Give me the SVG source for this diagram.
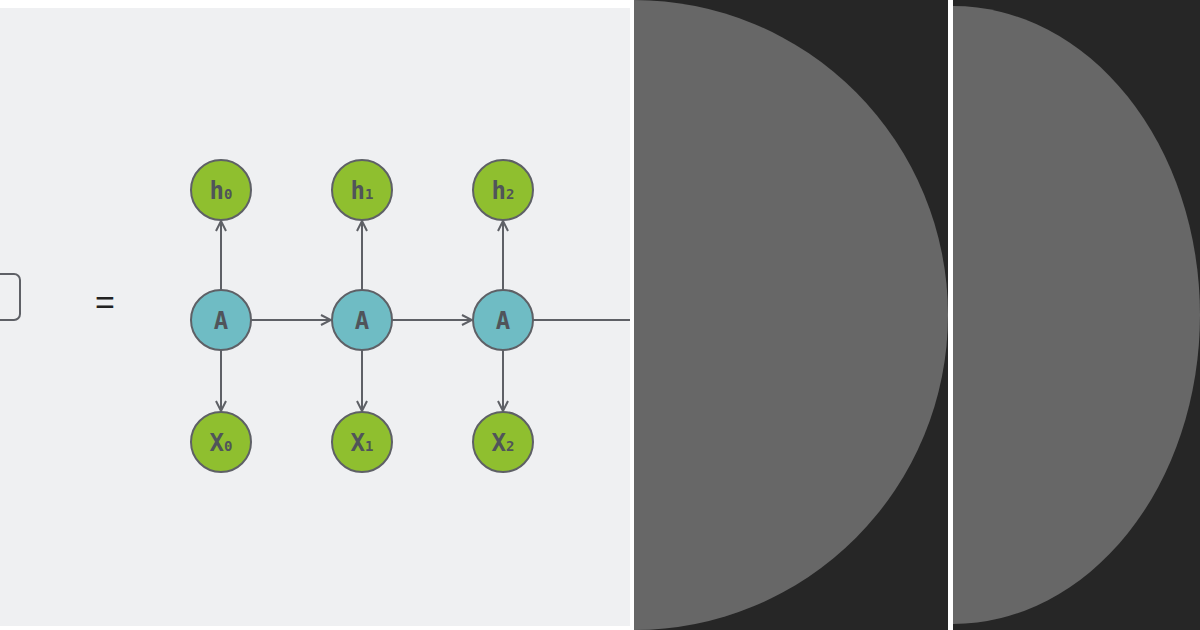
<svg xmlns="http://www.w3.org/2000/svg" width="1200" height="630" viewBox="0 0 1200 630">
<style>
.g{fill:#8fbf2f;stroke:#5e6066;stroke-width:2}
.a{fill:#6fbcc4;stroke:#5e6066;stroke-width:2}
.t{font-family:"DejaVu Sans Mono",monospace;font-weight:bold;font-size:24px;fill:#50545a;text-anchor:middle}
.s{font-size:14px}
.c line{stroke:#5e6066;stroke-width:2}
</style>
<defs><marker id="ar" viewBox="0 0 12 12" refX="11" refY="6" markerWidth="12" markerHeight="12" markerUnits="userSpaceOnUse" orient="auto"><path d="M1 1L11 6L1 11" fill="none" stroke="#5e6066" stroke-width="2"/></marker></defs>
<rect width="1200" height="630" fill="#fff"/>
<rect x="0" y="8" width="630" height="618" fill="#eff0f2"/>
<rect x="634" y="0" width="314" height="630" fill="#262626"/>
<path d="M634 0A314 315 0 0 1 634 630Z" fill="#676767"/>
<rect x="953" y="0" width="247" height="630" fill="#262626"/>
<path d="M953 6A247 309 0 0 1 953 624Z" fill="#676767"/>
<rect x="-20" y="274" width="40" height="46" rx="6" fill="none" stroke="#5e6066" stroke-width="2"/>
<text x="105" y="314" font-family="Liberation Sans,sans-serif" font-size="34" text-anchor="middle" fill="#222">=</text>
<g class="c">
<line x1="221" y1="290" x2="221" y2="221" marker-end="url(#ar)"/>
<line x1="362" y1="290" x2="362" y2="221" marker-end="url(#ar)"/>
<line x1="503" y1="290" x2="503" y2="221" marker-end="url(#ar)"/>
<line x1="221" y1="350" x2="221" y2="411" marker-end="url(#ar)"/>
<line x1="362" y1="350" x2="362" y2="411" marker-end="url(#ar)"/>
<line x1="503" y1="350" x2="503" y2="411" marker-end="url(#ar)"/>
<line x1="251" y1="320" x2="331" y2="320" marker-end="url(#ar)"/>
<line x1="392" y1="320" x2="472" y2="320" marker-end="url(#ar)"/>
<line x1="533" y1="320" x2="630" y2="320"/>
</g>
<g id="h0"><circle class="g" cx="221" cy="190" r="30"/><text class="t" x="221" y="199">h<tspan class="s">0</tspan></text></g>
<g id="h1"><circle class="g" cx="362" cy="190" r="30"/><text class="t" x="362" y="199">h<tspan class="s">1</tspan></text></g>
<g id="h2"><circle class="g" cx="503" cy="190" r="30"/><text class="t" x="503" y="199">h<tspan class="s">2</tspan></text></g>
<g id="a0"><circle class="a" cx="221" cy="320" r="30"/><text class="t" x="221" y="329">A</text></g>
<g id="a1"><circle class="a" cx="362" cy="320" r="30"/><text class="t" x="362" y="329">A</text></g>
<g id="a2"><circle class="a" cx="503" cy="320" r="30"/><text class="t" x="503" y="329">A</text></g>
<g id="x0"><circle class="g" cx="221" cy="442" r="30"/><text class="t" x="221" y="451">X<tspan class="s">0</tspan></text></g>
<g id="x1"><circle class="g" cx="362" cy="442" r="30"/><text class="t" x="362" y="451">X<tspan class="s">1</tspan></text></g>
<g id="x2"><circle class="g" cx="503" cy="442" r="30"/><text class="t" x="503" y="451">X<tspan class="s">2</tspan></text></g>
</svg>
